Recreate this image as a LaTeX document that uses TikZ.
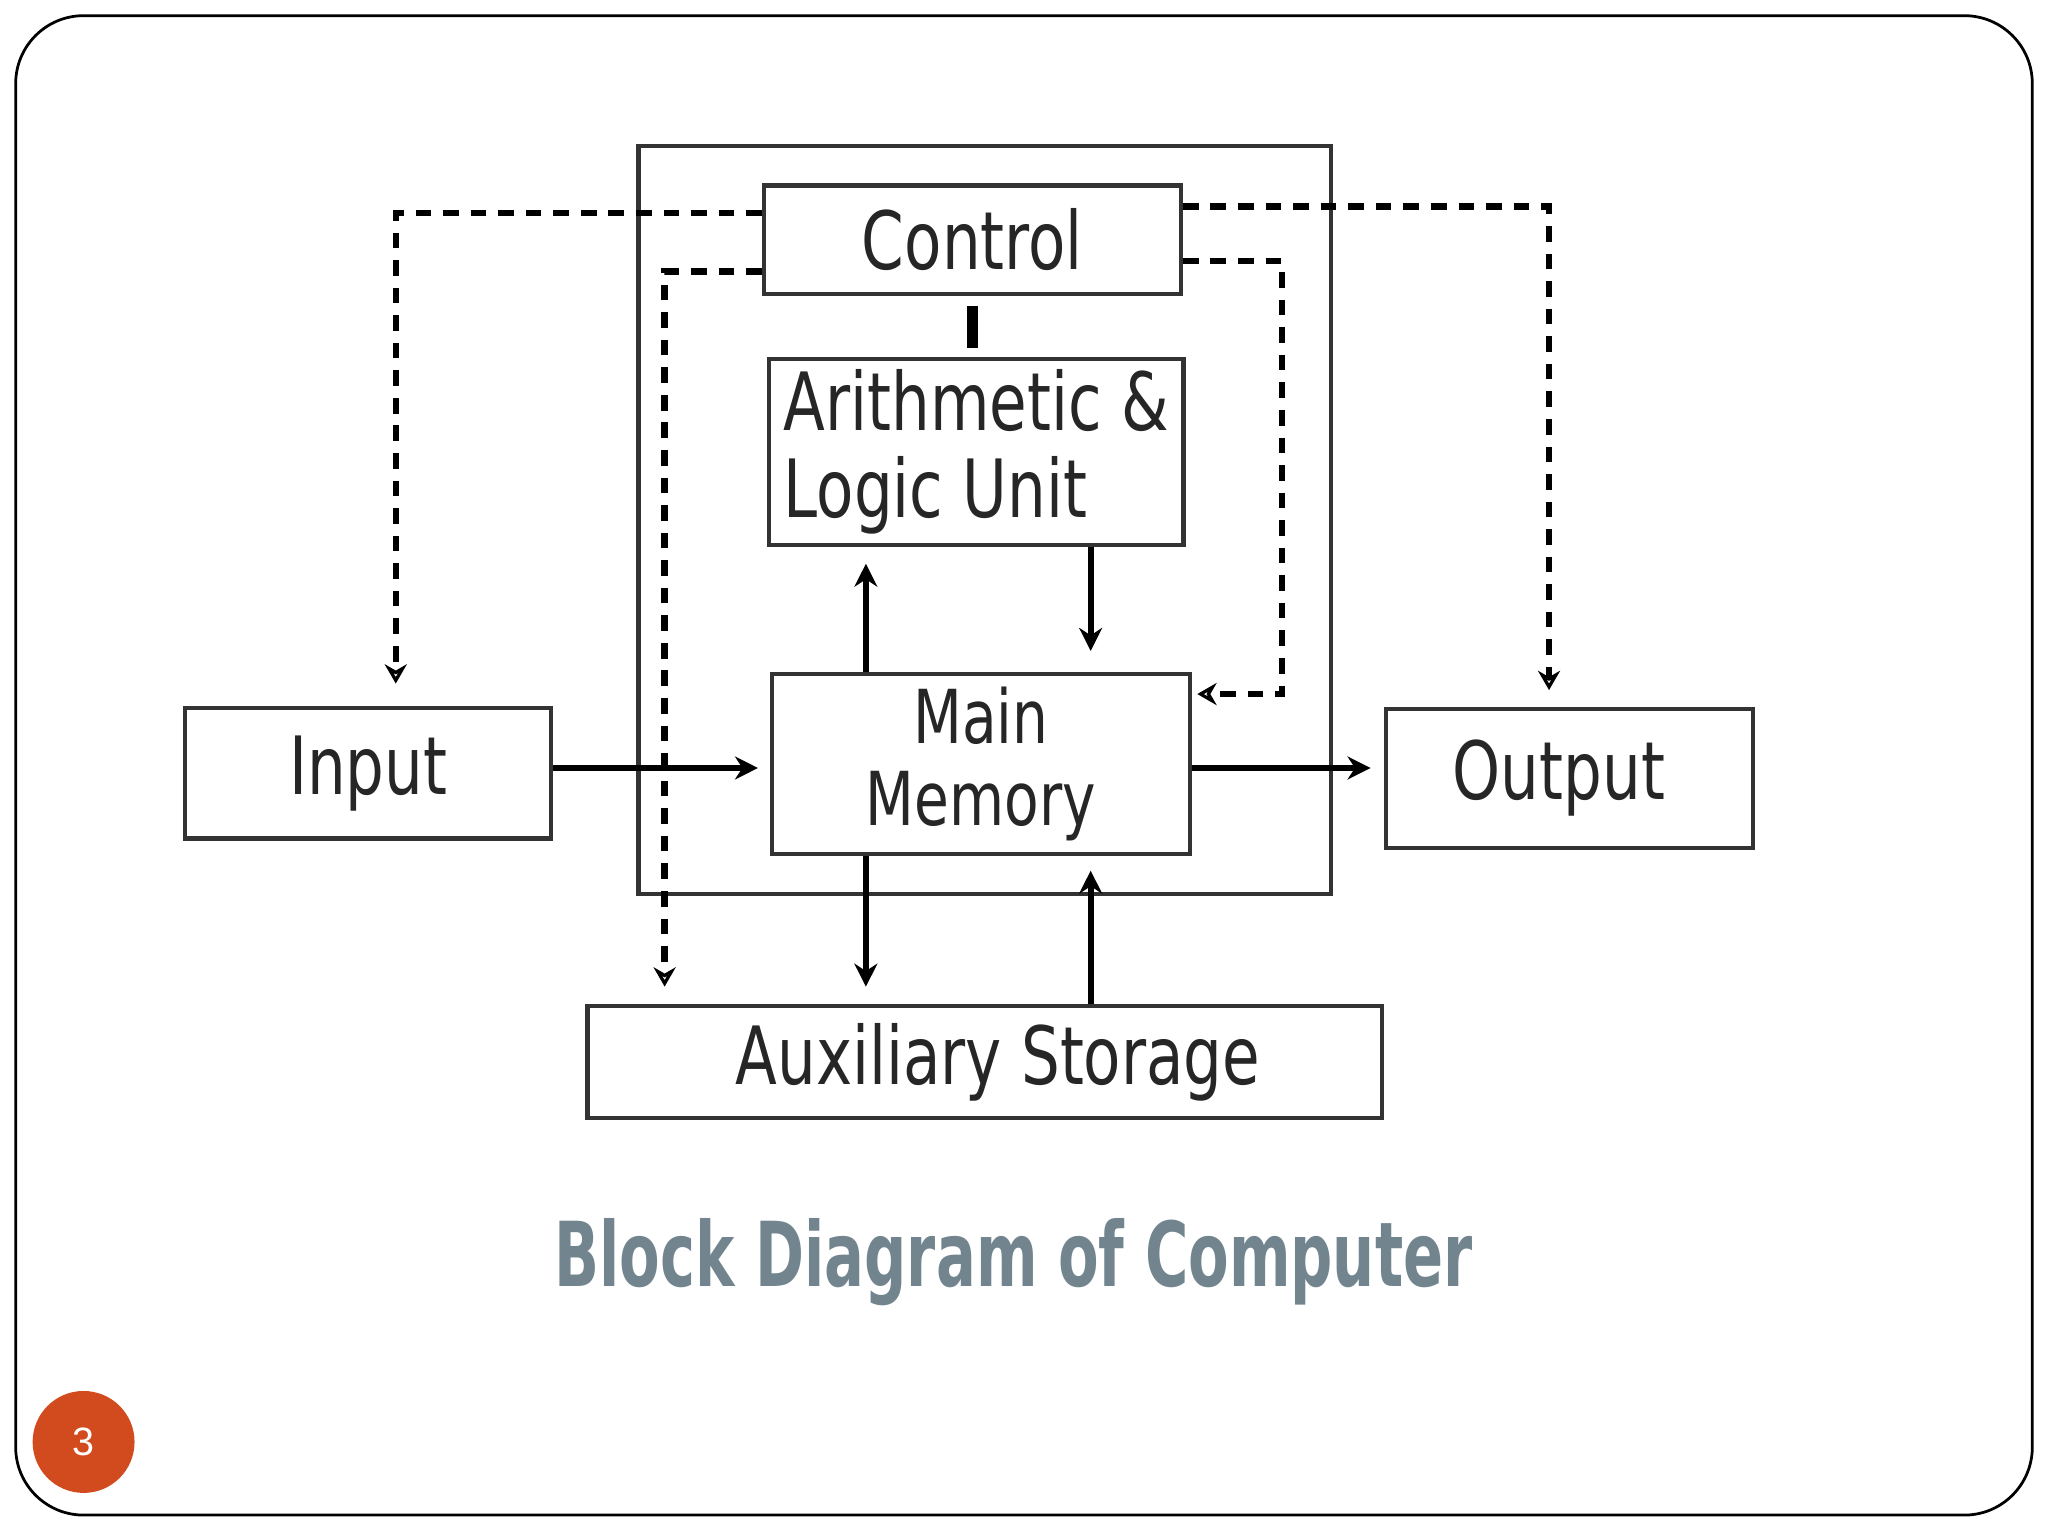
\documentclass[tikz,border=0pt]{standalone}
\usepackage{fontspec}
\usetikzlibrary{arrows.meta,calc}
\newfontfamily\diagfam[FakeStretch=0.76]{DejaVu Sans}
\newfontfamily\titlefam[FakeStretch=0.66]{DejaVu Sans}
\newfontfamily\numfam{Liberation Sans}
\definecolor{boxgray}{HTML}{333333}
\definecolor{titlec}{HTML}{72858F}
\definecolor{badge}{HTML}{D24B1E}
\begin{document}
\begin{tikzpicture}[x=0.01cm,y=-0.01cm,
  box/.style={draw=boxgray, line width=0.9pt, inner sep=0pt, text=black!85,
    font=\diagfam\fontsize{17.5}{20}\selectfont},
  arr/.style={line width=1.25pt, -{Stealth[length=5pt,width=5pt]}},
  darr/.style={line width=1.4pt, dash pattern=on 3.4pt off 2.6pt,
    -{Stealth[length=4.2pt,width=4.8pt,open]}},
  barline/.style={line width=2.4pt}
]
\useasboundingbox (0,0) rectangle (1568,1176);
\fill[white] (0,0) rectangle (1568,1176);
\draw[line width=0.6pt, rounded corners=0.52cm] (12,12) rectangle (1556,1160);

% CPU frame
\node[draw=boxgray, line width=0.9pt, minimum width=5.30cm, minimum height=5.72cm] (cpu) at (754,398) {};

% boxes
\node[box, minimum width=3.19cm, minimum height=0.83cm] (ctrl) at (744.5,183.5) {Control};
\node[box, minimum width=3.17cm, minimum height=1.42cm, align=left,
  font=\diagfam\fontsize{17.5}{19}\selectfont] (alu) at (747.5,346) {Arithmetic \&\\Logic Unit};
\node[box, minimum width=3.20cm, minimum height=1.38cm, align=center,
  font=\diagfam\fontsize{16.2}{18}\selectfont] (mm) at (751,585) {Main\\Memory};
\node[box, minimum width=2.80cm, minimum height=1.00cm] (in) at (282,592) {Input};
\node[box, minimum width=2.81cm, minimum height=1.06cm] (out) at (1201.5,596) {Output\hspace*{0.16cm}};
\node[box, minimum width=6.08cm, minimum height=0.86cm] (aux) at (754,813) {\hspace*{0.2cm}Auxiliary Storage};

% control - ALU bar
\draw[barline] ([yshift=-0.08cm]ctrl.south) -- ([yshift=-0.40cm]ctrl.south);

% solid data arrows
\draw[arr, shorten >=0.09cm] ([yshift=0.04cm]in.east) -- ([yshift=0.04cm]in.east -| mm.west);
\draw[arr, shorten >=0.10cm] ([yshift=-0.03cm]mm.east) -- ([yshift=-0.03cm]mm.east -| out.west);
\draw[arr, shorten >=0.13cm] ([xshift=-0.88cm]mm.north) -- ([xshift=-0.88cm]mm.north |- alu.south);
\draw[arr, shorten >=0.16cm] ([xshift=0.875cm]alu.south) -- ([xshift=0.875cm]alu.south |- mm.north);
\draw[arr, shorten >=0.13cm] ([xshift=-0.88cm]mm.south) -- ([xshift=-0.88cm]mm.south |- aux.north);
\draw[arr, shorten >=0.11cm] ([xshift=0.81cm]aux.north) -- ([xshift=0.81cm]aux.north |- mm.south);

% dashed control lines
\draw[darr, shorten >=0.17cm] ([yshift=0.205cm]ctrl.west) -| ([xshift=0.21cm]in.north);
\draw[darr, shorten >=0.13cm] ([yshift=-0.245cm]ctrl.west) -| ([xshift=-2.45cm]aux.north);
\draw[darr, shorten >=0.13cm] ([yshift=0.255cm]ctrl.east) -| ([xshift=-0.155cm]out.north);
\draw[darr, shorten >=0.04cm] ([yshift=-0.165cm]ctrl.east) -| ([xshift=0.69cm,yshift=-0.17cm]mm.north east) -- ([yshift=-0.17cm]mm.north east);

% title
\node[font=\titlefam\bfseries\fontsize{19.5}{22}\selectfont, text=titlec] (title) at (776,966) {Block Diagram of Computer};

% page number badge
\node[circle, fill=badge, minimum size=0.78cm, inner sep=0pt, text=white,
  font=\numfam\fontsize{8.6}{10}\selectfont] (num) at (64,1104) {3};
\end{tikzpicture}
\end{document}
